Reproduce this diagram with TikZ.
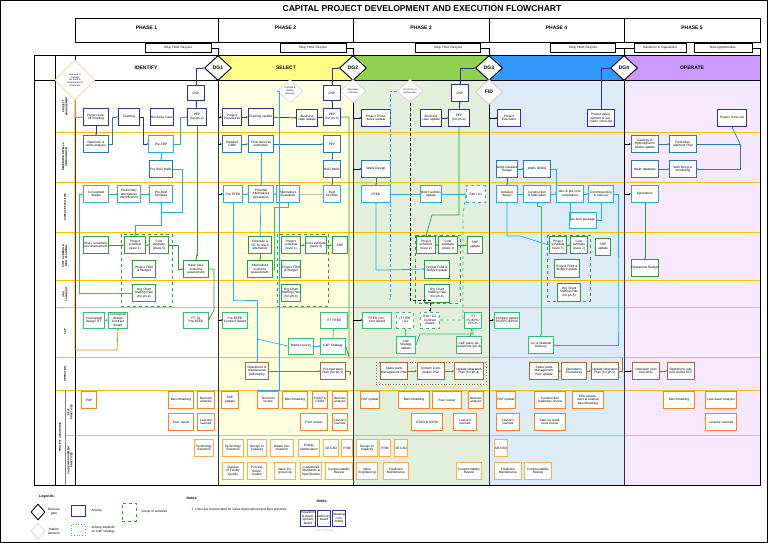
\documentclass[tikz,border=0pt]{standalone}
\usepackage{fontspec}
\setmainfont{Liberation Sans}
\usetikzlibrary{shapes.geometric,arrows.meta}
\definecolor{cact}{HTML}{2E3192}
\definecolor{csub}{HTML}{2E75B6}
\definecolor{cfac}{HTML}{29ABE2}
\definecolor{ccost}{HTML}{2E9A3A}
\definecolor{ccp}{HTML}{33C26A}
\definecolor{cop}{HTML}{9C6B3C}
\definecolor{cbp}{HTML}{FF7F27}
\definecolor{cvip}{HTML}{FFAA55}
\definecolor{rowl}{HTML}{FFC000}
\definecolor{selh}{HTML}{FFFF88}\definecolor{selb}{HTML}{FFFFE0}
\definecolor{defh}{HTML}{92D050}\definecolor{defb}{HTML}{E2EFDA}
\definecolor{exeh}{HTML}{3399FF}\definecolor{exeb}{HTML}{DDEBF7}
\definecolor{oph}{HTML}{CC99FF}\definecolor{opb}{HTML}{F5E8FF}
\newcommand\bx[6]{\node[#1,text width=#4pt,minimum height=#5pt] (#2) at (#3) {#6};}
\tikzset{
 box/.style={draw,fill=white,line width=0.8pt,align=center,inner sep=0.3pt,font=\fontsize{3.2}{3.6}\selectfont},
 act/.style={box,draw=cact},
 sub/.style={box,draw=csub},
 fac/.style={box,draw=cfac},
 cost/.style={box,draw=ccost},
 cp/.style={box,draw=ccp},
 cpd/.style={box,draw=ccp,dashed},
 op/.style={box,draw=cop},
 bp/.style={box,draw=cbp},
 vip/.style={box,draw=cvip},
 dg/.style={diamond,draw=black,line width=0.9pt,fill=white,aspect=1.1,minimum width=27pt,minimum height=25pt,inner sep=0pt,font=\fontsize{5}{5}\selectfont\bfseries},
 im/.style={diamond,draw=gray!35,line width=0.6pt,fill=white,aspect=1.1,minimum width=26pt,minimum height=23pt,inner sep=0pt,align=center,font=\fontsize{2.3}{2.6}\selectfont},
 grp/.style={draw=ccost,dashed,line width=0.8pt},
 c/.style={draw=#1,line width=0.7pt,-{Stealth[length=1.6pt,width=1.6pt]}},
 hdr/.style={font=\fontsize{5}{5}\selectfont\bfseries},
 lab/.style={rotate=90,font=\fontsize{2.6}{3}\selectfont\bfseries,align=center},
 stop/.style={draw,line width=0.7pt,fill=white,font=\fontsize{3.2}{3.2}\selectfont,minimum height=9pt,inner sep=0pt}
}
\begin{document}
\begin{tikzpicture}[x=1pt,y=-1pt]
\useasboundingbox (0,0) rectangle (768,543);
\draw[line width=1pt] (0.5,0.5) rectangle (767.5,542.5);
\node[font=\fontsize{8.6}{8.6}\selectfont\bfseries] (title) at (422,9) {CAPITAL PROJECT DEVELOPMENT AND EXECUTION FLOWCHART};
% stage backgrounds
\fill[selb] (218,80) rectangle (353,485); \fill[selh] (218,56) rectangle (353,80);
\fill[defb] (353,80) rectangle (489,485); \fill[defh] (353,56) rectangle (489,80);
\fill[exeb] (489,80) rectangle (624,485); \fill[exeh] (489,56) rectangle (624,80);
\fill[opb] (624,80) rectangle (760,485); \fill[oph] (624,56) rectangle (760,80);
% phases
\foreach \a/\b/\t in {75/218/PHASE 1,218/353/PHASE 2,353/489/PHASE 3,489/624/PHASE 4,624/760/PHASE 5}{
 \draw[line width=0.8pt] (\a,18) rectangle (\b,42);
 \node[hdr] at ({(\a+\b)/2},28) {\t};}
% stop boxes
\node[stop,minimum width=66pt] (s1) at (178,48) {Stop, Hold, Recycle};
\node[stop,minimum width=66pt] (s2) at (313,48) {Stop, Hold, Recycle};
\node[stop,minimum width=65pt] (s3) at (448,48) {Stop, Hold, Recycle};
\node[stop,minimum width=65pt] (s4) at (583,48) {Stop, Hold, Recycle};
\node[stop,minimum width=52pt] (s5) at (660,48) {Handover to Operations};
\node[stop,minimum width=58pt] (s6) at (723,48) {New opportunities};
\coordinate (k1) at (218,56); \coordinate (k2) at (353,56); \coordinate (k3) at (489,56);
\coordinate (k4) at (624,56); \coordinate (k5) at (760,56);
\draw[line width=0.7pt] (s1.east) -| (k1);
\draw[line width=0.7pt] (s2.east) -| (k2);
\draw[line width=0.7pt] (s3.east) -| (k3);
\draw[line width=0.7pt] (s4.east) -| (k4);
\draw[line width=0.7pt] (s5.west) -| (k4);
\draw[line width=0.7pt] (s6.east) -| (k5);
% rows
\foreach \y in {132,182,232,280,307,357,390}{\draw[rowl,line width=0.8pt] (55,\y) -- (760,\y);}
\draw[rowl,line width=0.8pt] (65,435) -- (760,435);
\draw[gray,line width=0.6pt] (65,390) -- (65,485);
\draw[line width=1pt] (34,56) rectangle (760,485);
\draw[line width=0.8pt] (34,80) -- (760,80);
\draw[line width=1pt] (55,56) -- (55,485);
\draw[line width=1pt] (75,56) -- (75,485);
\foreach \x in {218,353,489,624}{\draw[line width=0.8pt,black!80] (\x,68) -- (\x,485);}
\node[hdr] at (146,68) {IDENTIFY};
\node[hdr] at (286,68) {SELECT};
\node[hdr] at (692,68) {OPERATE};
\node[lab] at (65,106) {PROJECT\\MANAGEMENT};
\node[lab] at (65,157) {RESERVOIR \& WELLS\\(SUBSURFACE)};
\node[lab] at (65,207) {SURFACE FACILITIES};
\node[lab] at (65,256) {COST, SCHEDULE,\\RISK, PLANNING};
\node[lab] at (65,294) {ORG.\\CAPABILITY};
\node[lab] at (65,332) {C\&P};
\node[lab] at (65,374) {OPERATION};
\node[lab] at (60,437) {PROJECT ASSURANCE};
\node[lab] at (70,412) {BEST\\PRACTICES};
\node[lab] at (70,460) {VALUE IMPROVEMENT\\PRACTICES};
% decision gates
\node[dg] (dg1) at (218,68) {DG1};
\node[dg] (dg2) at (353,68) {DG2};
\node[dg] (dg3) at (489,68) {DG3};
\node[dg] (dg4) at (624,68) {DG4};
\node[dg,draw=gray!40,font=\fontsize{5}{5}\selectfont\bfseries] (fid) at (489,92) {FID};
\node[im,draw=orange!40,minimum width=40pt,minimum height=40pt] (appr) at (75,80) {Approval to\\Transfer\\the Field to\\Development \&\\Production};
\node[im] (im1) at (290,91) {Concept \&\\solution\\planning};
\node[im] (im2) at (353,91) {Alternative\\selection};
\node[im] (im3) at (410,91) {Pre EU \& LLI\\authorization};
% ---- PHASE 1
\bx{act}{kick}{96,117}{25}{17}{Project kick-off meeting}
\bx{act}{fram}{129,117}{21}{17}{Framing}
\bx{act}{bcase}{162,117}{23}{17}{Business Case}
\bx{act}{pep1}{197,117}{18}{17}{PEP\\(for ph-2)}
\bx{act}{dsp1}{196,93}{16}{15}{DSP}
\bx{sub}{resan}{96,144}{25}{17}{Reservoir \& wells analysis}
\bx{fac}{prefdp}{161,144}{24}{17}{Pre-FDP}
\bx{sub}{prebodw}{161,169}{22}{17}{Pre BoD Wells}
\bx{fac}{concd}{96,194}{25}{17}{Conceptual design}
\bx{fac}{prelalt}{129,194}{22}{17}{Preliminary alternatives identification}
\bx{fac}{prebodf}{161,194}{22}{17}{Pre-BoD Facilities}
\bx{cost}{risk}{96,245}{25}{17}{Risk / uncertainties assessment}
\draw[grp] (121,234) rectangle (172,306);
\bx{cost}{ps1}{135,245}{21}{17}{Project schedule (level 1)}
\bx{cost}{ce5}{159,245}{19}{17}{Cost estimate (class 5)}
\bx{cost}{fdm1}{144,269}{23}{17}{Project FDM \& Budget}
\bx{cost}{org1}{144,293}{23}{17}{Org Chart Staffing Plan (for ph-2)}
\bx{cost}{bce}{196,269}{24}{17}{Base case economy assessment}
\bx{cp}{cditt}{94,320}{20}{16}{Conceptual design ITT}
\bx{cp}{cdca}{118,320}{19}{16}{Conceptual design Contract Award}
\bx{cp}{ittpf}{196,320}{24}{16}{ITT for Pre-FEED}
\bx{bp}{pap1}{89,400}{15}{17}{PAP}
\bx{bp}{bm1}{181,400}{24}{17}{Benchmarking}
\bx{bp}{da1}{206,400}{16}{17}{Decision analysis}
\bx{bp}{pa1}{181,422}{24}{17}{Peer assist}
\bx{bp}{ll1}{206,422}{16}{17}{Lessons learned}
\bx{vip}{ts1}{204,448}{19}{17}{Technology Selection}
% ---- PHASE 2
\bx{act}{proc2}{232,117}{19}{17}{Project Procedures}
\bx{act}{fram2}{261,117}{25}{17}{Framing update}
\bx{act}{bcu2}{307,118}{20}{17}{Business case update}
\bx{act}{dsp2}{332,93}{16}{15}{DSP}
\bx{act}{pep2}{332,117}{17}{17}{PEP\\(for ph-3)}
\bx{sub}{dgrm}{232,144}{19}{17}{Detailed GRM}
\bx{sub}{fres}{261,144}{25}{17}{Final reserves estimation}
\bx{sub}{pep2b}{332,144}{17}{17}{PEP}
\bx{sub}{bodw}{332,169}{17}{17}{BoD Wells}
\bx{fac}{prefeed}{233,194}{19}{17}{Pre-FEED}
\bx{fac}{potalt}{261,194}{24}{17}{Potential Alternatives generation}
\bx{fac}{alteva}{288,194}{22}{17}{Alternatives Evaluation}
\bx{fac}{bodf}{332,194}{17}{17}{BoD Facilities}
\bx{cost}{scce}{260,245}{23}{17}{Schedule \& CE for each alternative}
\bx{cost}{altec}{260,269}{24}{17}{Alternatives economy assessment}
\draw[grp] (277,234) rectangle (328,306);
\bx{cost}{ps2}{291,245}{19}{17}{Project schedule (level 1)}
\bx{cost}{ce4}{316,245}{21}{17}{Cost estimate (class 4)}
\bx{cost}{fdm2}{291,269}{19}{17}{Project FDM \& Budget}
\bx{cost}{org2}{291,293}{19}{17}{Org Chart Staffing Plan (for ph-3)}
\bx{cost}{srp2}{340,245}{15}{17}{SRP}
\bx{cp}{pfca}{235,320}{24}{16}{Pre-FEED Contract Award}
\bx{cp}{ittf}{334,320}{26}{16}{ITT FEED}
\bx{cp}{msurv}{301,346}{25}{16}{Market survey}
\bx{cp}{cps}{333,346}{24}{16}{C\&P Strategy}
\bx{op}{omp}{257,371}{23}{17}{Operations \& maintenance philosophy}
\bx{op}{preop}{333,371}{24}{17}{Pre-operation Plan (for ph-3)}
\bx{bp}{pap2}{230,400}{16}{17}{PAP update}
\bx{bp}{tr2}{268,400}{21}{17}{Technical review}
\bx{bp}{bm2}{295,400}{25}{17}{Benchmarking}
\bx{bp}{csar2}{320,400}{15}{17}{CSAR \& CSRA}
\bx{bp}{da2}{340,400}{15}{17}{Decision analysis}
\bx{bp}{pr2}{314,422}{27}{17}{Peer review}
\bx{bp}{ll2}{340,422}{15}{17}{Lessons learned}
\bx{vip}{ts2}{233,448}{20}{17}{Technology Selection}
\bx{vip}{dtc2}{257,448}{18}{17}{Design to Capacity}
\bx{vip}{wm2}{282,448}{22}{17}{Waste minimization}
\bx{vip}{eo2}{309,448}{21}{17}{Energy Optimization}
\bx{vip}{cad2}{331,448}{14}{17}{3D CAD}
\bx{vip}{prm2}{347,448}{11}{17}{PRM}
\bx{vip}{cfq2}{233,471}{20}{17}{Classes of Facility Quality}
\bx{vip}{psim2}{257,471}{18}{17}{Process Simplification}
\bx{vip}{ve2}{285,471}{21}{17}{Value Engineering}
\bx{vip}{css2}{311,471}{21}{17}{Customized Standards \& Specification}
\bx{vip}{cr2}{339,471}{26}{17}{Constructability Review}
% ---- PHASE 3
\bx{act}{proc3}{376,118}{28}{17}{Project Procedures update}
\bx{act}{dsp3}{460,93}{17}{17}{DSP}
\bx{act}{bcu3}{431,118}{20}{17}{Business case update}
\bx{act}{pep3}{459,118}{20}{17}{PEP\\(for ph-4)}
\bx{sub}{wd3}{376,169}{28}{17}{Wells Design}
\bx{fac}{feed}{376,194}{28}{17}{FEED}
\bx{fac}{bodfu}{431,194}{20}{17}{BoD Facilities update}
\bx{fac,dashed}{ewlli}{476,194}{19}{17}{EW / LLI}
\draw[grp] (415,235) rectangle (460,303);
\bx{cost}{ps3}{426,245}{18}{17}{Project schedule (level 2)}
\bx{cost}{ce3}{448,245}{18}{17}{Cost estimate (class 3)}
\bx{cost}{fdm3}{437,269}{24}{18}{Project FDM \& Budget update}
\bx{cost}{org3}{437,293}{24}{18}{Org Chart Staffing Plan (for ph-4)}
\bx{cost}{srp3}{475,245}{15}{17}{SRP update}
\bx{cp}{feedca}{377,320}{28}{16}{FEED Contract Award}
\bx{cpd}{ittew}{405,320}{17}{16}{ITT EW / LLI}
\bx{cpd}{ewca}{430,320}{19}{16}{EW / LLI Contract Award}
\bx{cp}{ittpc}{473,320}{17}{16}{ITT PC/EPC/ EPCm}
\bx{cp}{cpsu}{406,345}{18}{17}{C\&P Strategy update}
\bx{cp}{cppd}{469,345}{25}{17}{C\&P plans development (ph-4)}
\draw[cop,dotted,line width=0.8pt] (376,362) rectangle (486,384);
\bx{op}{spmp}{394,371}{27}{17}{Spare parts Management Plan}
\bx{op}{scp}{431,371}{27}{17}{System Completion Plan}
\bx{op}{uop3}{469,371}{29}{17}{Update Operation Plan (for ph-4)}
\bx{bp}{pap3}{370,400}{19}{17}{PAP update}
\bx{bp}{bm3}{414,400}{31}{17}{Benchmarking}
\bx{bp}{pr3}{447,400}{28}{17}{Peer review}
\bx{bp}{da3}{476,400}{15}{17}{Decision analysis}
\bx{bp}{csar3}{427,422}{31}{17}{CSAR \& CSRA}
\bx{bp}{ll3}{465,422}{23}{17}{Lessons learned}
\bx{vip}{dtc3}{367,448}{20}{17}{Design to Capacity}
\bx{vip}{prm3}{385,448}{10}{17}{PRM}
\bx{vip}{cad3}{401,448}{13}{17}{3D CAD}
\bx{vip}{ve3}{367,471}{20}{17}{Value Engineering}
\bx{vip}{pm3}{396,471}{25}{17}{Prediction Maintenance}
\bx{vip}{cr3}{469,471}{25}{17}{Constructability Review}
% ---- PHASE 4
\bx{act}{pexe}{509,118}{22}{17}{Project Execution}
\bx{act}{pclo4}{601,118}{26}{17}{Project development \& execution close-out}
\bx{sub}{wdd}{507,169}{21}{17}{Wells Detailed Design}
\bx{sub}{wdr}{537,169}{26}{17}{Wells drilling}
\bx{fac}{dd}{507,194}{21}{17}{Detailed design}
\bx{fac}{cf}{537,194}{26}{17}{Construction \& fabrication}
\bx{fac}{mpc}{570,194}{26}{17}{Mec \& pre-com. completions}
\bx{fac}{csu}{601,194}{25}{17}{Commissioning \& start-up}
\bx{fac}{abp}{583,220}{26}{16}{As-built package}
\draw[grp] (547,235) rectangle (590,301);
\bx{cost}{ps4}{558,245}{17}{17}{Project schedule (level 3)}
\bx{cost}{ce2}{579,245}{17}{17}{Cost estimate (class 2)}
\bx{cost}{fdm4}{567,268}{24}{18}{Project FDM \& Budget update}
\bx{cost}{org4}{569,292}{23}{18}{Org Chart Staffing Plan (for ph-5)}
\bx{cost}{srp4}{603,247}{15}{17}{SRP update}
\bx{cp}{cape}{507,320}{25}{16}{Contract Award PC/EPC/EPCm}
\bx{cp}{llid}{541,345}{24}{17}{LLI \& Material Delivery}
\bx{op}{spmu}{544,371}{29}{17}{Spare parts Management Plan update}
\bx{op}{opr}{574,371}{25}{17}{Operations Procedures}
\bx{op}{uop4}{605,371}{27}{17}{Update Operation Plan (for ph-5)}
\bx{bp}{pap4}{506,400}{19}{17}{PAP update}
\bx{bp}{crr}{550,400}{30}{17}{Construction readiness review}
\bx{bp}{epa}{588,400}{30}{17}{EPA assessment \& internal benchmarking}
\bx{bp}{ll4}{508,422}{23}{17}{Lessons learned}
\bx{bp}{surr}{550,422}{30}{17}{Start-up readiness review}
\bx{vip}{sbceo}{501,448}{13}{17}{SB CEO}
\bx{vip}{pm4}{508,471}{26}{17}{Prediction Maintenance}
\bx{vip}{cr4}{538,471}{26}{17}{Constructability Review}
% ---- PHASE 5
\bx{act}{pclo5}{732,118}{28}{17}{Project close-out}
\bx{sub}{geo}{645,144}{27}{17}{Geology \& Hydrodynamic Model update}
\bx{sub}{fmp}{683,144}{26}{17}{Field Management Plan}
\bx{sub}{wdb}{645,169}{27}{17}{Wells database}
\bx{sub}{wlm}{683,169}{26}{17}{Well lifecycle monitoring}
\bx{fac}{opsf}{645,194}{27}{17}{Operations}
\bx{cost}{opb}{645,268}{27}{17}{Operations Budget}
\bx{op}{ope}{646,371}{27}{17}{Operation plan execution}
\bx{op}{osd}{681,371}{26}{17}{Operations support during DLP}
\bx{bp}{bm5}{679,400}{30}{17}{Benchmarking}
\bx{bp}{lba}{721,400}{30}{17}{Look-back Analysis}
\bx{bp}{ll5}{721,422}{30}{17}{Lessons Learned}
% ---- connectors
\draw[c=orange!80!brown] (appr.south) |- (kick.west);
\draw[c=orange!80!brown] (appr.south) |- (117,350) -- (cdca.south);
\draw[c=cact] (kick) -- (resan);
\draw[c=csub] (resan.east) -| (112,117) -- (fram.west);
\draw[c=cact] (fram.east) -| (143,144) -- (prefdp.west);
\draw[c=cfac] (prefdp.east) -| (180,117) -- (pep1.west);
\draw[c=cact] (pep1) -- (dsp1);
\draw[c=cact] (dsp1.north) |- (dg1.west);
\draw[c=cfac] (prefdp) -- (prebodw);
\draw[c=cfac] (concd) -- (prelalt);
\draw[c=cfac] (prelalt) -- (prebodf);
\draw[c=cfac] (prebodw.east) -| (182,212) -- (161,212) -- (prebodf.south);
\draw[c=cfac] (prebodf.south) |- (135,225) -- (ps1.north);
\draw[c=ccost] (risk) -- (ps1);
\draw[c=ccost] (ps1) -- (ce5);
\draw[c=ccost] (ce5.east) -| (178,269) -- (bce.west);
\draw[c=ccost] (pep1.south) |- (196,255) -- (bce.north);
\draw[c=ccp] (org1.west) -| (79,194) -- (concd.west);
\draw[c=ccp] (cditt) -- (cdca);
\draw[c=ccost] (bce.east) -| (214,310) -- (ittpf.east);
\draw[c=black] (dg1.south) -- (218,117) -- (proc2.west);
\draw[c=black] (218,144) -- (dgrm.west);
\draw[c=black] (218,194) -- (prefeed.west);
\draw[c=black] (218,320) -- (pfca.west);
\draw[c=cact] (proc2) -- (fram2);
\draw[c=cact] (fram2) -- (bcu2);
\draw[c=cact] (bcu2) -- (pep2);
\draw[c=cact] (pep2) -- (dsp2);
\draw[c=cact] (dsp2.north) |- (dg2.west);
\draw[c=csub] (dgrm) -- (fres);
\draw[c=csub] (fres) -- (pep2b);
\draw[c=csub] (pep2b) -- (bodw);
\draw[c=csub] (bodw) -- (bodf);
\draw[c=cfac] (prefeed) -- (potalt);
\draw[c=cfac] (potalt) -- (alteva);
\draw[c=cfac,gray!50] (alteva) -- (bodf);
\draw[c=cfac] (fres) -- (potalt);
\draw[c=cfac] (potalt) -- (scce);
\draw[c=ccost] (scce) -- (altec);
\draw[c=ccp] (alteva.south) |- (274,207) -- (274,269) -- (altec.east);
\draw[c=ccost] (ps2) -- (ce4);
\draw[c=ccost] (ce4) -- (srp2);
\draw[c=cfac] (im1.west) -| (279,390) -- (257,390) ;
\draw[c=cfac] (msurv) -- (cps);
\draw[c=ccp] (cps.north) -- (ittf);
\draw[c=cfac] (257,339) -- (msurv.west);
\draw[c=cfac] (prefeed.south) |- (236,300) -- (257,300) -- (omp.north);
\draw[c=cop] (omp) -- (preop);
\draw[c=ccost] (pep2.east) -| (349,357) -- (cps.east);
\draw[c=black] (im2.south) -- (353,118) -- (proc3.west);
\draw[c=black] (353,169) -- (wd3.west);
\draw[c=black] (353,320) -- (feedca.west);
\draw[c=cop] (preop.east) -| (350,375);
\draw[c=csub] (wd3) -- (feed);
\draw[c=cfac] (feed) -- (bodfu);
\draw[c=cfac] (bodfu) -- (ewlli);
\draw[c=cact] (bcu3) -- (pep3);
\draw[c=cact] (pep3) -- (dsp3);
\draw[c=cact] (dsp3.north) |- (dg3.west);
\draw[c=ccost] (pep3.south) -- (459,215) -- (432,215) -- (ps3.north);
\draw[c=ccost] (ps3) -- (ce3);
\draw[c=ccost] (ce3) -- (srp3);
\draw[c=black,densely dashed] (im3.south) -- (410,300) -- (430,300) -- (ewca.north);
\draw[c=cfac,densely dashed] (im3.west) -| (390,300);
\draw[c=cfac] (feed.south) |- (386,270) -- (fdm3.west);
\draw[c=ccp] (ittew) -- (cpsu);
\draw[c=ccp] (ittpc.south) |- (420,334) -- (cpsu.east);
\draw[c=ccp] (ittpc) -- (cppd);
\draw[c=ccp,dashed] (ewca.east) -| (463,320) -- (463,215) -- (ewlli.west);
\draw[c=cop] (spmp) -- (scp);
\draw[c=cop] (scp) -- (uop3);
\draw[c=black] (fid.south) -- (489,118) -- (pexe.west);
\draw[c=black] (489,320) -- (cape.west);
\draw[c=csub] (wdd) -- (wdr);
\draw[c=csub] (wdd) -- (dd);
\draw[c=cfac] (dd) -- (cf);
\draw[c=cfac] (cf) -- (mpc);
\draw[c=cfac] (mpc) -- (csu);
\draw[c=cfac] (wdr.east) -| (556,194);
\draw[c=cfac] (mpc.south) |- (abp.west);
\draw[c=cfac] (csu.south) |- (abp.east);
\draw[c=cfac] (dd.south) |- (520,236) -- (ps4.west);
\draw[c=ccost] (ps4) -- (ce2);
\draw[c=ccp] (cf.south) -- (537,206) -- (541,206) -- (llid.north);
\draw[c=cfac] (csu.east) -| (618,320) -- (618,345) -- (llid.east);
\draw[c=cop] (spmu) -- (opr);
\draw[c=cop] (opr) -- (uop4);
\draw[c=cact] (pclo4.north) |- (dg4.west);
\draw[c=black] (dg4.south) -- (624,194) -- (opsf.west);
\draw[c=black] (624,144) -- (geo.west);
\draw[c=black] (624,371) -- (ope.west);
\draw[c=csub] (geo) -- (fmp);
\draw[c=csub] (wdb) -- (wlm);
\draw[c=csub] (fmp.east) -| (740,169) -- (wlm.east);
\draw[c=csub] (740,144) -- (pclo5.south);
\draw[c=ccost] (opsf) -- (opb);
\draw[c=cop] (ope) -- (osd);
\draw[c=cop] (uop4.east) -| (622,357) ;
% ---- legend
\node[font=\fontsize{3.5}{4}\selectfont\bfseries] (lg) at (47,497) {Legends:};
\node[dg,minimum width=14pt,minimum height=16pt] (ld1) at (38,512) {};
\node[font=\fontsize{3.2}{3.8}\selectfont,align=center] (lt1) at (54,512) {Decision\\gate};
\node[im,minimum width=14pt,minimum height=16pt] (ld2) at (38,531) {};
\node[font=\fontsize{3.2}{3.8}\selectfont,align=center] (lt2) at (54,531) {Interim\\decision};
\node[draw=cact,line width=0.8pt,minimum width=14pt,minimum height=11pt,inner sep=0] (lr1) at (78,511) {};
\node[font=\fontsize{3.2}{3.8}\selectfont,anchor=west] (lt3) at (88,511) {Activity};
\node[draw=ccp,dotted,line width=0.8pt,minimum width=14pt,minimum height=11pt,inner sep=0] (lr2) at (78,530) {};
\node[font=\fontsize{3.2}{3.8}\selectfont,anchor=west,align=left] (lt4) at (88,530) {Activity depends\\on C\&P strategy};
\node[draw=ccost,dashed,line width=0.8pt,minimum width=14pt,minimum height=18pt,inner sep=0] (lr3) at (129,512) {};
\node[font=\fontsize{3.2}{3.8}\selectfont,anchor=west] (lt5) at (138,512) {Group of activities};
\node[font=\fontsize{3.5}{4}\selectfont\bfseries] (nt) at (192,498) {Notes:};
\node[font=\fontsize{3.2}{3.8}\selectfont,anchor=west] (nt1) at (188,510) {1. Links are not provided for Value improvement and best practices;};
\node[font=\fontsize{3.5}{4}\selectfont\bfseries] (hd) at (322,501) {Holds:};
\bx{act}{h1}{308,518}{14}{16}{Research \& development board}
\bx{act}{h2}{324,518}{12}{16}{Advisory board}
\bx{act}{h3}{339,518}{12}{16}{Steering committee}
\node[font=\fontsize{2.2}{2.5}\selectfont,text=gray!60] (tbc) at (324,531) {TO BE CONFIRMED};
\end{tikzpicture}
\end{document}
